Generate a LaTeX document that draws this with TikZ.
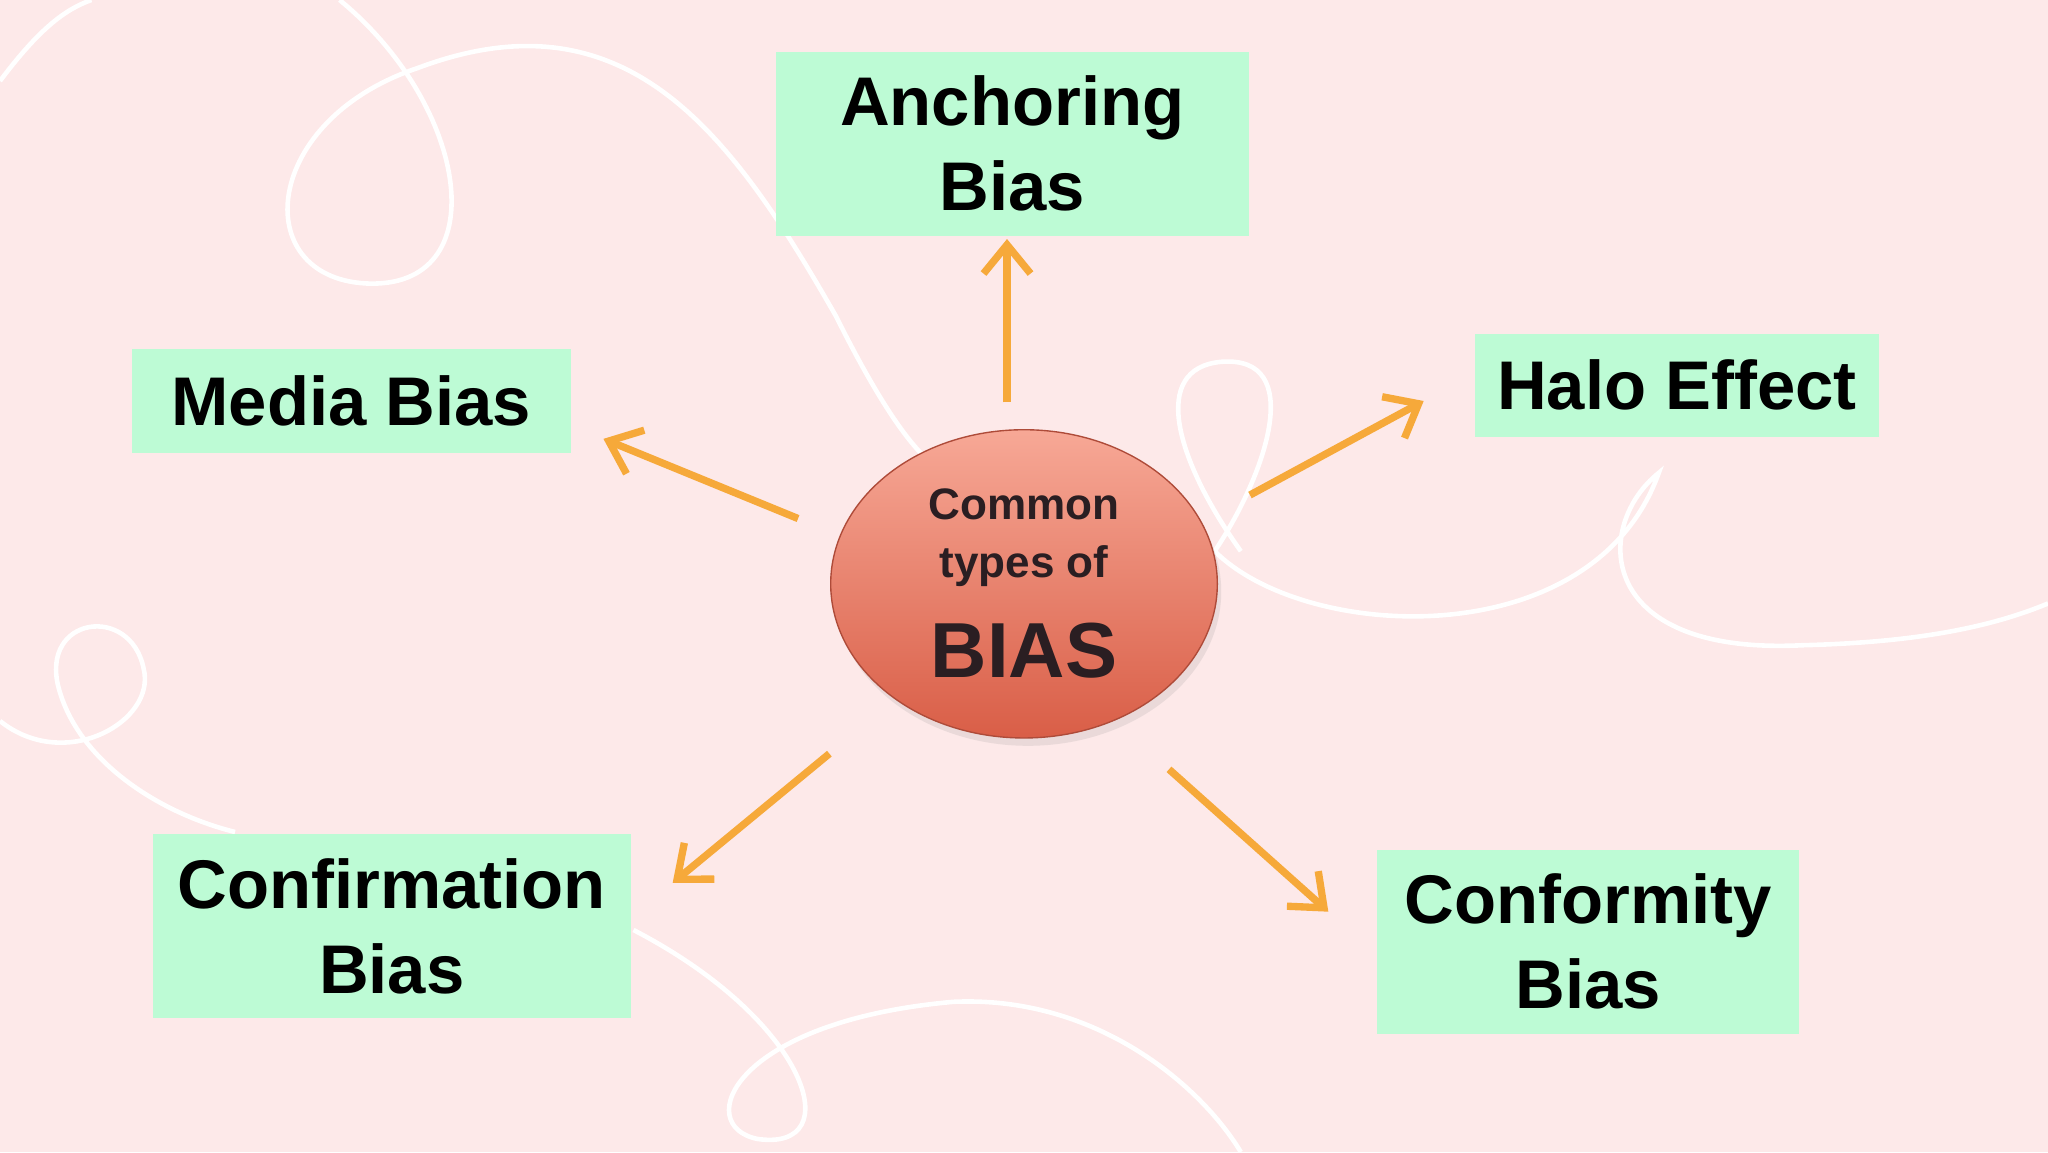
\documentclass[tikz,border=0pt]{standalone}
\usepackage{fontspec}
\setmainfont{Liberation Sans}
\usetikzlibrary{arrows.meta,shapes.geometric,shadows}
\definecolor{bg}{HTML}{FDE9E9}
\definecolor{boxg}{HTML}{BDFBD5}
\definecolor{arr}{HTML}{F6A93A}
\definecolor{elltop}{HTML}{F7A896}
\definecolor{ellbot}{HTML}{D95E47}
\definecolor{ink}{HTML}{2A1E22}
\tikzset{
  biasbox/.style={fill=boxg,draw=none,align=center,font=\bfseries\fontsize{15}{18.5}\selectfont,inner sep=0pt},
  biasarrow/.style={draw=arr,line width=1.6pt,-{Straight Barb[length=2.2mm,width=3.6mm,line width=1.6pt]}},
  deco/.style={draw=white,line width=1pt}
}
\begin{document}
\begin{tikzpicture}[x=1cm,y=1cm]
\fill[bg] (0,0) rectangle (15.68,8.82);
\useasboundingbox (0,0) rectangle (15.68,8.82);
% decorative white curves
\draw[deco] (2.6,8.82) .. controls (3.6,8.0) and (3.8,6.6) .. (2.8,6.65) .. controls (1.9,6.7) and (2.0,7.9) .. (3.2,8.3) .. controls (4.8,8.9) and (5.6,7.8) .. (6.4,6.4) .. controls (6.8,5.6) and (7.0,5.4) .. (7.1,5.3);
\draw[deco] (9.5,4.6) .. controls (9.0,5.3) and (8.8,6.0) .. (9.35,6.05) .. controls (10.0,6.1) and (9.7,5.2) .. (9.3,4.6) .. controls (10.0,3.9) and (12.2,3.8) .. (12.7,5.2) .. controls (12.2,4.8) and (12.2,3.8) .. (13.8,3.88) .. controls (14.6,3.9) and (15.2,4.0) .. (15.68,4.2);
\draw[deco] (0,3.3) .. controls (0.5,2.9) and (1.2,3.3) .. (1.1,3.7) .. controls (1.0,4.2) and (0.3,4.1) .. (0.45,3.55) .. controls (0.6,3.0) and (1.2,2.6) .. (1.8,2.45);
\draw[deco] (4.85,1.7) .. controls (6.2,1.0) and (6.5,0) .. (5.8,0.1) .. controls (5.3,0.2) and (5.6,1.0) .. (7.3,1.15) .. controls (8.4,1.2) and (9.2,0.5) .. (9.5,0);
\draw[deco] (0,8.2) .. controls (0.3,8.6) and (0.5,8.75) .. (0.7,8.82);
% boxes
\node[biasbox,minimum width=3.62cm,minimum height=1.41cm] (anch) at (7.75,7.72) {Anchoring\\Bias};
\node[biasbox,minimum width=3.36cm,minimum height=0.79cm] (media) at (2.69,5.75) {Media Bias};
\node[biasbox,minimum width=3.09cm,minimum height=0.79cm] (halo) at (12.84,5.87) {Halo Effect};
\node[biasbox,minimum width=3.66cm,minimum height=1.41cm] (confirm) at (3.00,1.73) {Confirmation\\Bias};
\node[biasbox,minimum width=3.23cm,minimum height=1.41cm] (conform) at (12.16,1.61) {Conformity\\Bias};
% centre ellipse
\node[ellipse,minimum width=2.96cm,minimum height=2.36cm,top color=elltop,bottom color=ellbot,draw=ellbot!80!black,line width=0.3pt,
  drop shadow={opacity=0.15,shadow xshift=0.3mm,shadow yshift=-0.6mm},align=center,inner sep=0pt,text=ink,
  font=\bfseries\fontsize{9.6}{12}\selectfont] (bias) at (7.84,4.35)
  {Common\\[0.5pt]types of\\[7pt]{\fontsize{17}{17}\selectfont BIAS}};
% arrow coordinates
\coordinate (a1s) at (7.71,5.74); \coordinate (a1e) at (7.71,6.99);
\coordinate (a2s) at (6.11,4.85); \coordinate (a2e) at (4.62,5.46);
\coordinate (a3s) at (9.57,5.03); \coordinate (a3e) at (10.90,5.75);
\coordinate (a4s) at (6.35,3.05); \coordinate (a4e) at (5.15,2.06);
\coordinate (a5s) at (8.95,2.93); \coordinate (a5e) at (10.17,1.84);
\draw[biasarrow] (a1s) -- (a1e);
\draw[biasarrow] (a2s) -- (a2e);
\draw[biasarrow] (a3s) -- (a3e);
\draw[biasarrow] (a4s) -- (a4e);
\draw[biasarrow] (a5s) -- (a5e);
\end{tikzpicture}
\end{document}
